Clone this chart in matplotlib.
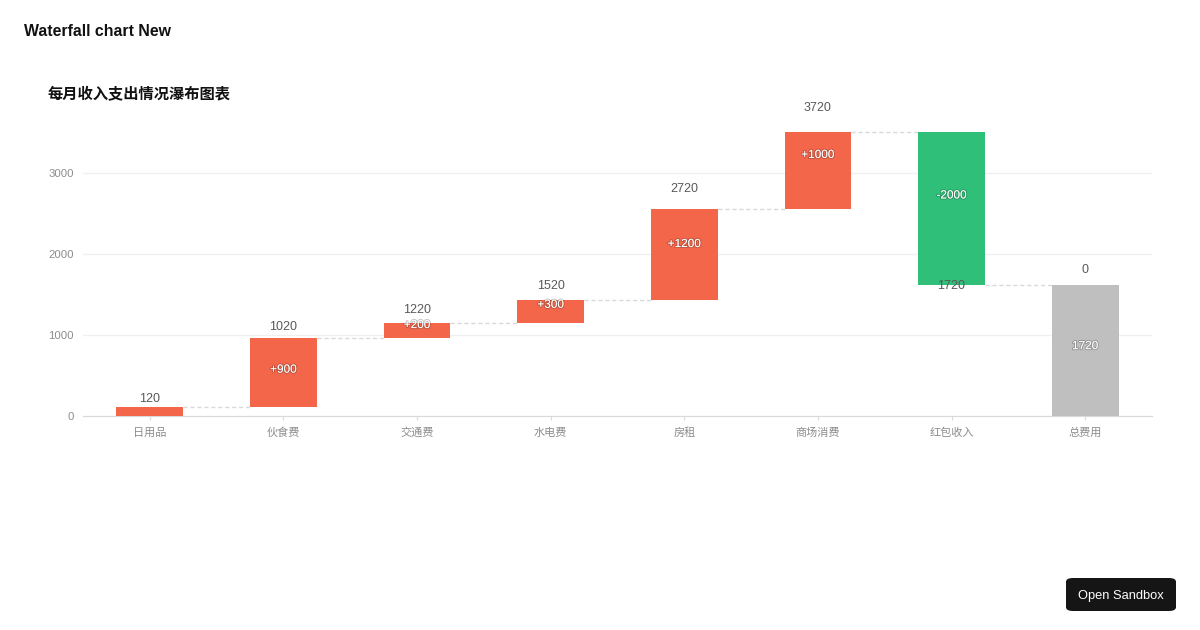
import numpy as np
import matplotlib
matplotlib.use("Agg")
import matplotlib.pyplot as plt
from matplotlib import patheffects
from matplotlib.patches import FancyBboxPatch

# data
categories = ["日用品", "伙食费", "交通费", "水电费", "房租", "商场消费", "红包收入", "总费用"]
changes = [120, 900, 200, 300, 1200, 1000, -2000]
total_label = "0"
yticks = [0, 1000, 2000, 3000]

TITLE = "Waterfall chart New"
CHART_TITLE = "每月收入支出情况瀑布图表"

UP = "#F4664A"
DOWN = "#30BF78"
TOTAL = "#BFBFBF"
CJK = ["Noto Sans CJK SC", "DejaVu Sans"]
SANS = ["Liberation Sans", "DejaVu Sans"]

W, H = 1200, 630
fig = plt.figure(figsize=(W / 100, H / 100), dpi=100)

# plot area in pixels
left, right, top, bottom = 83, 1152, 95, 415.8
rect = [left / W, (H - bottom) / H, (right - left) / W, (bottom - top) / H]

ax = fig.add_axes(rect)          # axis scale: ticks, grid, labels
bx = ax.twinx()                  # bar scale (bars sit a bit lower than the axis)
y_top = 3960
ax.set_ylim(0, y_top)
bx.set_ylim(0, y_top * 81 / 76.2)
n = len(categories)
ax.set_xlim(-0.5, n - 0.5)

ends = np.cumsum(changes)
starts = np.concatenate([[0], ends[:-1]])
total = ends[-1]

# grid + axes styling
ax.set_yticks(yticks)
ax.set_yticklabels([str(t) for t in yticks], family=SANS, fontsize=8.2, color="#8c8c8c")
ax.yaxis.grid(True, color="#f0f0f0", lw=1)
ax.set_axisbelow(True)
ax.tick_params(axis="y", length=0, pad=6.5)
ax.set_xticks(range(n))
ax.set_xticklabels(categories, family=CJK, fontsize=8, color="#8c8c8c")
ax.tick_params(axis="x", length=3, color="#d9d9d9", pad=5.5)
for s in ["top", "right", "left"]:
    ax.spines[s].set_visible(False)
    bx.spines[s].set_visible(False)
bx.spines["bottom"].set_visible(False)
ax.spines["bottom"].set_color("#d9d9d9")
bx.set_yticks([])

# bars
width = 0.5
for i, (s, e) in enumerate(zip(starts, ends)):
    color = UP if e >= s else DOWN
    bx.bar(i, e - s, bottom=s, width=width, color=color, lw=0, zorder=2)
bx.bar(n - 1, total, bottom=0, width=width, color=TOTAL, lw=0, zorder=2)

# connectors
levels = list(ends)
for i, lv in enumerate(levels):
    bx.plot([i + width / 2, i + 1 - width / 2], [lv, lv], color="#d9d9d9",
            lw=1, dashes=(3, 2), zorder=1)

# labels (placed in axis scale)
stroke = [patheffects.withStroke(linewidth=1.4, foreground=(0, 0, 0, 0.22))]
lab = dict(family=SANS, fontsize=9, color="#595959", ha="center", va="center",
           xycoords=ax.transData, textcoords="offset points", zorder=5)
for i, (s, e) in enumerate(zip(starts, ends)):
    if e >= s:
        bx.annotate(str(e), (i, e), xytext=(0, 4.8), **lab)
    else:
        bx.annotate(str(e), (i, e), xytext=(0, -7.0), **lab)
    if i > 0:
        txt = f"+{changes[i]}" if changes[i] > 0 else str(changes[i])
        bx.annotate(txt, (i, (s + e) / 2), xycoords=ax.transData, ha="center",
                    va="center", family=SANS, fontsize=8.5, color="white",
                    path_effects=stroke, zorder=5)
bx.annotate(total_label, (n - 1, total), xytext=(0, 4.8), **lab)
bx.annotate(str(total), (n - 1, total / 2), xycoords=ax.transData, ha="center",
            va="center", family=SANS, fontsize=8.5, color="white",
            path_effects=stroke, zorder=5)

# titles
fig.text(24 / W, 1 - 31.5 / H, TITLE, family=SANS, fontsize=11.4, fontweight="bold",
         color="#111111", va="center", ha="left")
fig.text(48 / W, 1 - 94.5 / H, CHART_TITLE, family=CJK, fontsize=11, fontweight="bold",
         color="#111111", va="center", ha="left")

# sandbox button
btn = FancyBboxPatch((1066 / W, 1 - 611 / H), 110 / W, 33 / H,
                     boxstyle="round,pad=0,rounding_size=0.006",
                     transform=fig.transFigure, facecolor="#151515", edgecolor="none")
fig.patches.append(btn)
fig.text(1121 / W, 1 - 596.5 / H, "Open Sandbox", family=SANS, fontsize=9.3,
         color="white", ha="center", va="center")

fig.savefig("out.png", dpi=100, facecolor="white")
